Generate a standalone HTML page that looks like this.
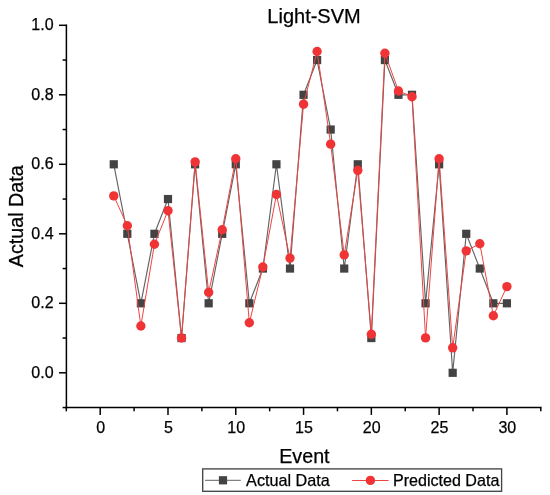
<!DOCTYPE html>
<html><head><meta charset="utf-8"><style>
html,body{margin:0;padding:0;background:#fff;}
svg{display:block;}
text{font-family:"Liberation Sans",Arial,sans-serif;fill:#000;stroke:#000;stroke-width:0.25px;}
</style></head><body>
<svg width="550" height="495" viewBox="0 0 550 495">
<rect width="550" height="495" fill="#fff"/>
<polyline points="113.76,164.3 127.31,233.8 140.87,303.3 154.43,233.8 167.99,199.05 181.54,338.05 195.1,164.3 208.66,303.3 222.21,233.8 235.77,164.3 249.33,303.3 262.88,268.55 276.44,164.3 290,268.55 303.56,94.8 317.11,60.05 330.67,129.55 344.23,268.55 357.78,164.3 371.34,338.05 384.9,60.05 398.45,94.8 412.01,94.8 425.57,303.3 439.12,164.3 452.68,372.8 466.24,233.8 479.8,268.55 493.35,303.3 506.91,303.3" fill="none" stroke="#636363" stroke-width="1.15" stroke-linejoin="round"/>
<rect x="109.66" y="160.2" width="8.2" height="8.2" fill="#434343"/>
<rect x="123.21" y="229.7" width="8.2" height="8.2" fill="#434343"/>
<rect x="136.77" y="299.2" width="8.2" height="8.2" fill="#434343"/>
<rect x="150.33" y="229.7" width="8.2" height="8.2" fill="#434343"/>
<rect x="163.89" y="194.95" width="8.2" height="8.2" fill="#434343"/>
<rect x="177.44" y="333.95" width="8.2" height="8.2" fill="#434343"/>
<rect x="191" y="160.2" width="8.2" height="8.2" fill="#434343"/>
<rect x="204.56" y="299.2" width="8.2" height="8.2" fill="#434343"/>
<rect x="218.11" y="229.7" width="8.2" height="8.2" fill="#434343"/>
<rect x="231.67" y="160.2" width="8.2" height="8.2" fill="#434343"/>
<rect x="245.23" y="299.2" width="8.2" height="8.2" fill="#434343"/>
<rect x="258.78" y="264.45" width="8.2" height="8.2" fill="#434343"/>
<rect x="272.34" y="160.2" width="8.2" height="8.2" fill="#434343"/>
<rect x="285.9" y="264.45" width="8.2" height="8.2" fill="#434343"/>
<rect x="299.45" y="90.7" width="8.2" height="8.2" fill="#434343"/>
<rect x="313.01" y="55.95" width="8.2" height="8.2" fill="#434343"/>
<rect x="326.57" y="125.45" width="8.2" height="8.2" fill="#434343"/>
<rect x="340.13" y="264.45" width="8.2" height="8.2" fill="#434343"/>
<rect x="353.68" y="160.2" width="8.2" height="8.2" fill="#434343"/>
<rect x="367.24" y="333.95" width="8.2" height="8.2" fill="#434343"/>
<rect x="380.8" y="55.95" width="8.2" height="8.2" fill="#434343"/>
<rect x="394.35" y="90.7" width="8.2" height="8.2" fill="#434343"/>
<rect x="407.91" y="90.7" width="8.2" height="8.2" fill="#434343"/>
<rect x="421.47" y="299.2" width="8.2" height="8.2" fill="#434343"/>
<rect x="435.02" y="160.2" width="8.2" height="8.2" fill="#434343"/>
<rect x="448.58" y="368.7" width="8.2" height="8.2" fill="#434343"/>
<rect x="462.14" y="229.7" width="8.2" height="8.2" fill="#434343"/>
<rect x="475.7" y="264.45" width="8.2" height="8.2" fill="#434343"/>
<rect x="489.25" y="299.2" width="8.2" height="8.2" fill="#434343"/>
<rect x="502.81" y="299.2" width="8.2" height="8.2" fill="#434343"/>
<polyline points="113.76,195.92 127.31,225.7 140.87,325.99 154.43,244.23 167.99,210.69 181.54,338.05 195.1,161.87 208.66,292.39 222.21,229.7 235.77,158.74 249.33,322.79 262.88,266.99 276.44,194.53 290,258.12 303.56,104.18 317.11,51.5 330.67,144.15 344.23,254.89 357.78,170.31 371.34,334.3 384.9,53.2 398.45,90.98 412.01,96.71 425.57,337.91 439.12,158.74 452.68,347.81 466.24,250.83 479.8,243.7 493.35,315.71 506.91,286.62" fill="none" stroke="#f04444" stroke-width="1" stroke-linejoin="round"/>
<circle cx="113.76" cy="195.92" r="4.7" fill="#f03436"/>
<circle cx="127.31" cy="225.7" r="4.7" fill="#f03436"/>
<circle cx="140.87" cy="325.99" r="4.7" fill="#f03436"/>
<circle cx="154.43" cy="244.23" r="4.7" fill="#f03436"/>
<circle cx="167.99" cy="210.69" r="4.7" fill="#f03436"/>
<circle cx="181.54" cy="338.05" r="4.7" fill="#f03436"/>
<circle cx="195.1" cy="161.87" r="4.7" fill="#f03436"/>
<circle cx="208.66" cy="292.39" r="4.7" fill="#f03436"/>
<circle cx="222.21" cy="229.7" r="4.7" fill="#f03436"/>
<circle cx="235.77" cy="158.74" r="4.7" fill="#f03436"/>
<circle cx="249.33" cy="322.79" r="4.7" fill="#f03436"/>
<circle cx="262.88" cy="266.99" r="4.7" fill="#f03436"/>
<circle cx="276.44" cy="194.53" r="4.7" fill="#f03436"/>
<circle cx="290" cy="258.12" r="4.7" fill="#f03436"/>
<circle cx="303.56" cy="104.18" r="4.7" fill="#f03436"/>
<circle cx="317.11" cy="51.5" r="4.7" fill="#f03436"/>
<circle cx="330.67" cy="144.15" r="4.7" fill="#f03436"/>
<circle cx="344.23" cy="254.89" r="4.7" fill="#f03436"/>
<circle cx="357.78" cy="170.31" r="4.7" fill="#f03436"/>
<circle cx="371.34" cy="334.3" r="4.7" fill="#f03436"/>
<circle cx="384.9" cy="53.2" r="4.7" fill="#f03436"/>
<circle cx="398.45" cy="90.98" r="4.7" fill="#f03436"/>
<circle cx="412.01" cy="96.71" r="4.7" fill="#f03436"/>
<circle cx="425.57" cy="337.91" r="4.7" fill="#f03436"/>
<circle cx="439.12" cy="158.74" r="4.7" fill="#f03436"/>
<circle cx="452.68" cy="347.81" r="4.7" fill="#f03436"/>
<circle cx="466.24" cy="250.83" r="4.7" fill="#f03436"/>
<circle cx="479.8" cy="243.7" r="4.7" fill="#f03436"/>
<circle cx="493.35" cy="315.71" r="4.7" fill="#f03436"/>
<circle cx="506.91" cy="286.62" r="4.7" fill="#f03436"/>
<g stroke="#000" stroke-width="1.5" stroke-linecap="butt"><line x1="66.4" y1="24.55" x2="66.4" y2="408.25"/><line x1="65.65" y1="407.5" x2="541.55" y2="407.5"/><line x1="62.6" y1="407.55" x2="66.4" y2="407.55"/><line x1="59" y1="372.8" x2="66.4" y2="372.8"/><line x1="62.6" y1="338.05" x2="66.4" y2="338.05"/><line x1="59" y1="303.3" x2="66.4" y2="303.3"/><line x1="62.6" y1="268.55" x2="66.4" y2="268.55"/><line x1="59" y1="233.8" x2="66.4" y2="233.8"/><line x1="62.6" y1="199.05" x2="66.4" y2="199.05"/><line x1="59" y1="164.3" x2="66.4" y2="164.3"/><line x1="62.6" y1="129.55" x2="66.4" y2="129.55"/><line x1="59" y1="94.8" x2="66.4" y2="94.8"/><line x1="62.6" y1="60.05" x2="66.4" y2="60.05"/><line x1="59" y1="25.3" x2="66.4" y2="25.3"/><line x1="66.31" y1="407.5" x2="66.31" y2="411.3"/><line x1="100.2" y1="407.5" x2="100.2" y2="414.9"/><line x1="134.09" y1="407.5" x2="134.09" y2="411.3"/><line x1="167.99" y1="407.5" x2="167.99" y2="414.9"/><line x1="201.88" y1="407.5" x2="201.88" y2="411.3"/><line x1="235.77" y1="407.5" x2="235.77" y2="414.9"/><line x1="269.66" y1="407.5" x2="269.66" y2="411.3"/><line x1="303.56" y1="407.5" x2="303.56" y2="414.9"/><line x1="337.45" y1="407.5" x2="337.45" y2="411.3"/><line x1="371.34" y1="407.5" x2="371.34" y2="414.9"/><line x1="405.23" y1="407.5" x2="405.23" y2="411.3"/><line x1="439.12" y1="407.5" x2="439.12" y2="414.9"/><line x1="473.02" y1="407.5" x2="473.02" y2="411.3"/><line x1="506.91" y1="407.5" x2="506.91" y2="414.9"/><line x1="540.8" y1="407.5" x2="540.8" y2="411.3"/></g>
<text x="53.6" y="377.5" font-size="16" text-anchor="end">0.0</text>
<text x="53.6" y="308" font-size="16" text-anchor="end">0.2</text>
<text x="53.6" y="238.5" font-size="16" text-anchor="end">0.4</text>
<text x="53.6" y="169" font-size="16" text-anchor="end">0.6</text>
<text x="53.6" y="99.5" font-size="16" text-anchor="end">0.8</text>
<text x="53.6" y="30" font-size="16" text-anchor="end">1.0</text>
<text x="100.6" y="433" font-size="16" text-anchor="middle">0</text>
<text x="168.39" y="433" font-size="16" text-anchor="middle">5</text>
<text x="236.17" y="433" font-size="16" text-anchor="middle">10</text>
<text x="303.95" y="433" font-size="16" text-anchor="middle">15</text>
<text x="371.74" y="433" font-size="16" text-anchor="middle">20</text>
<text x="439.52" y="433" font-size="16" text-anchor="middle">25</text>
<text x="507.31" y="433" font-size="16" text-anchor="middle">30</text>
<text x="314" y="23.2" font-size="20" text-anchor="middle">Light-SVM</text>
<text x="304.4" y="463" font-size="19.7" text-anchor="middle">Event</text>
<text transform="translate(23,216.3) rotate(-90)" x="0" y="0" font-size="19.7" text-anchor="middle">Actual Data</text>
<rect x="202.7" y="468.9" width="298.9" height="22.4" fill="none" stroke="#454545" stroke-width="1.35"/>
<line x1="205" y1="480.3" x2="240.8" y2="480.3" stroke="#636363" stroke-width="1"/>
<rect x="218.9" y="476.2" width="8.2" height="8.2" fill="#434343"/>
<text x="246.1" y="485.6" font-size="16.2">Actual Data</text>
<line x1="352.1" y1="480.5" x2="388.6" y2="480.5" stroke="#f04444" stroke-width="1"/>
<circle cx="370.4" cy="480.4" r="4.7" fill="#f03436"/>
<text x="392.9" y="485.6" font-size="16.1">Predicted Data</text>
</svg>
</body></html>
